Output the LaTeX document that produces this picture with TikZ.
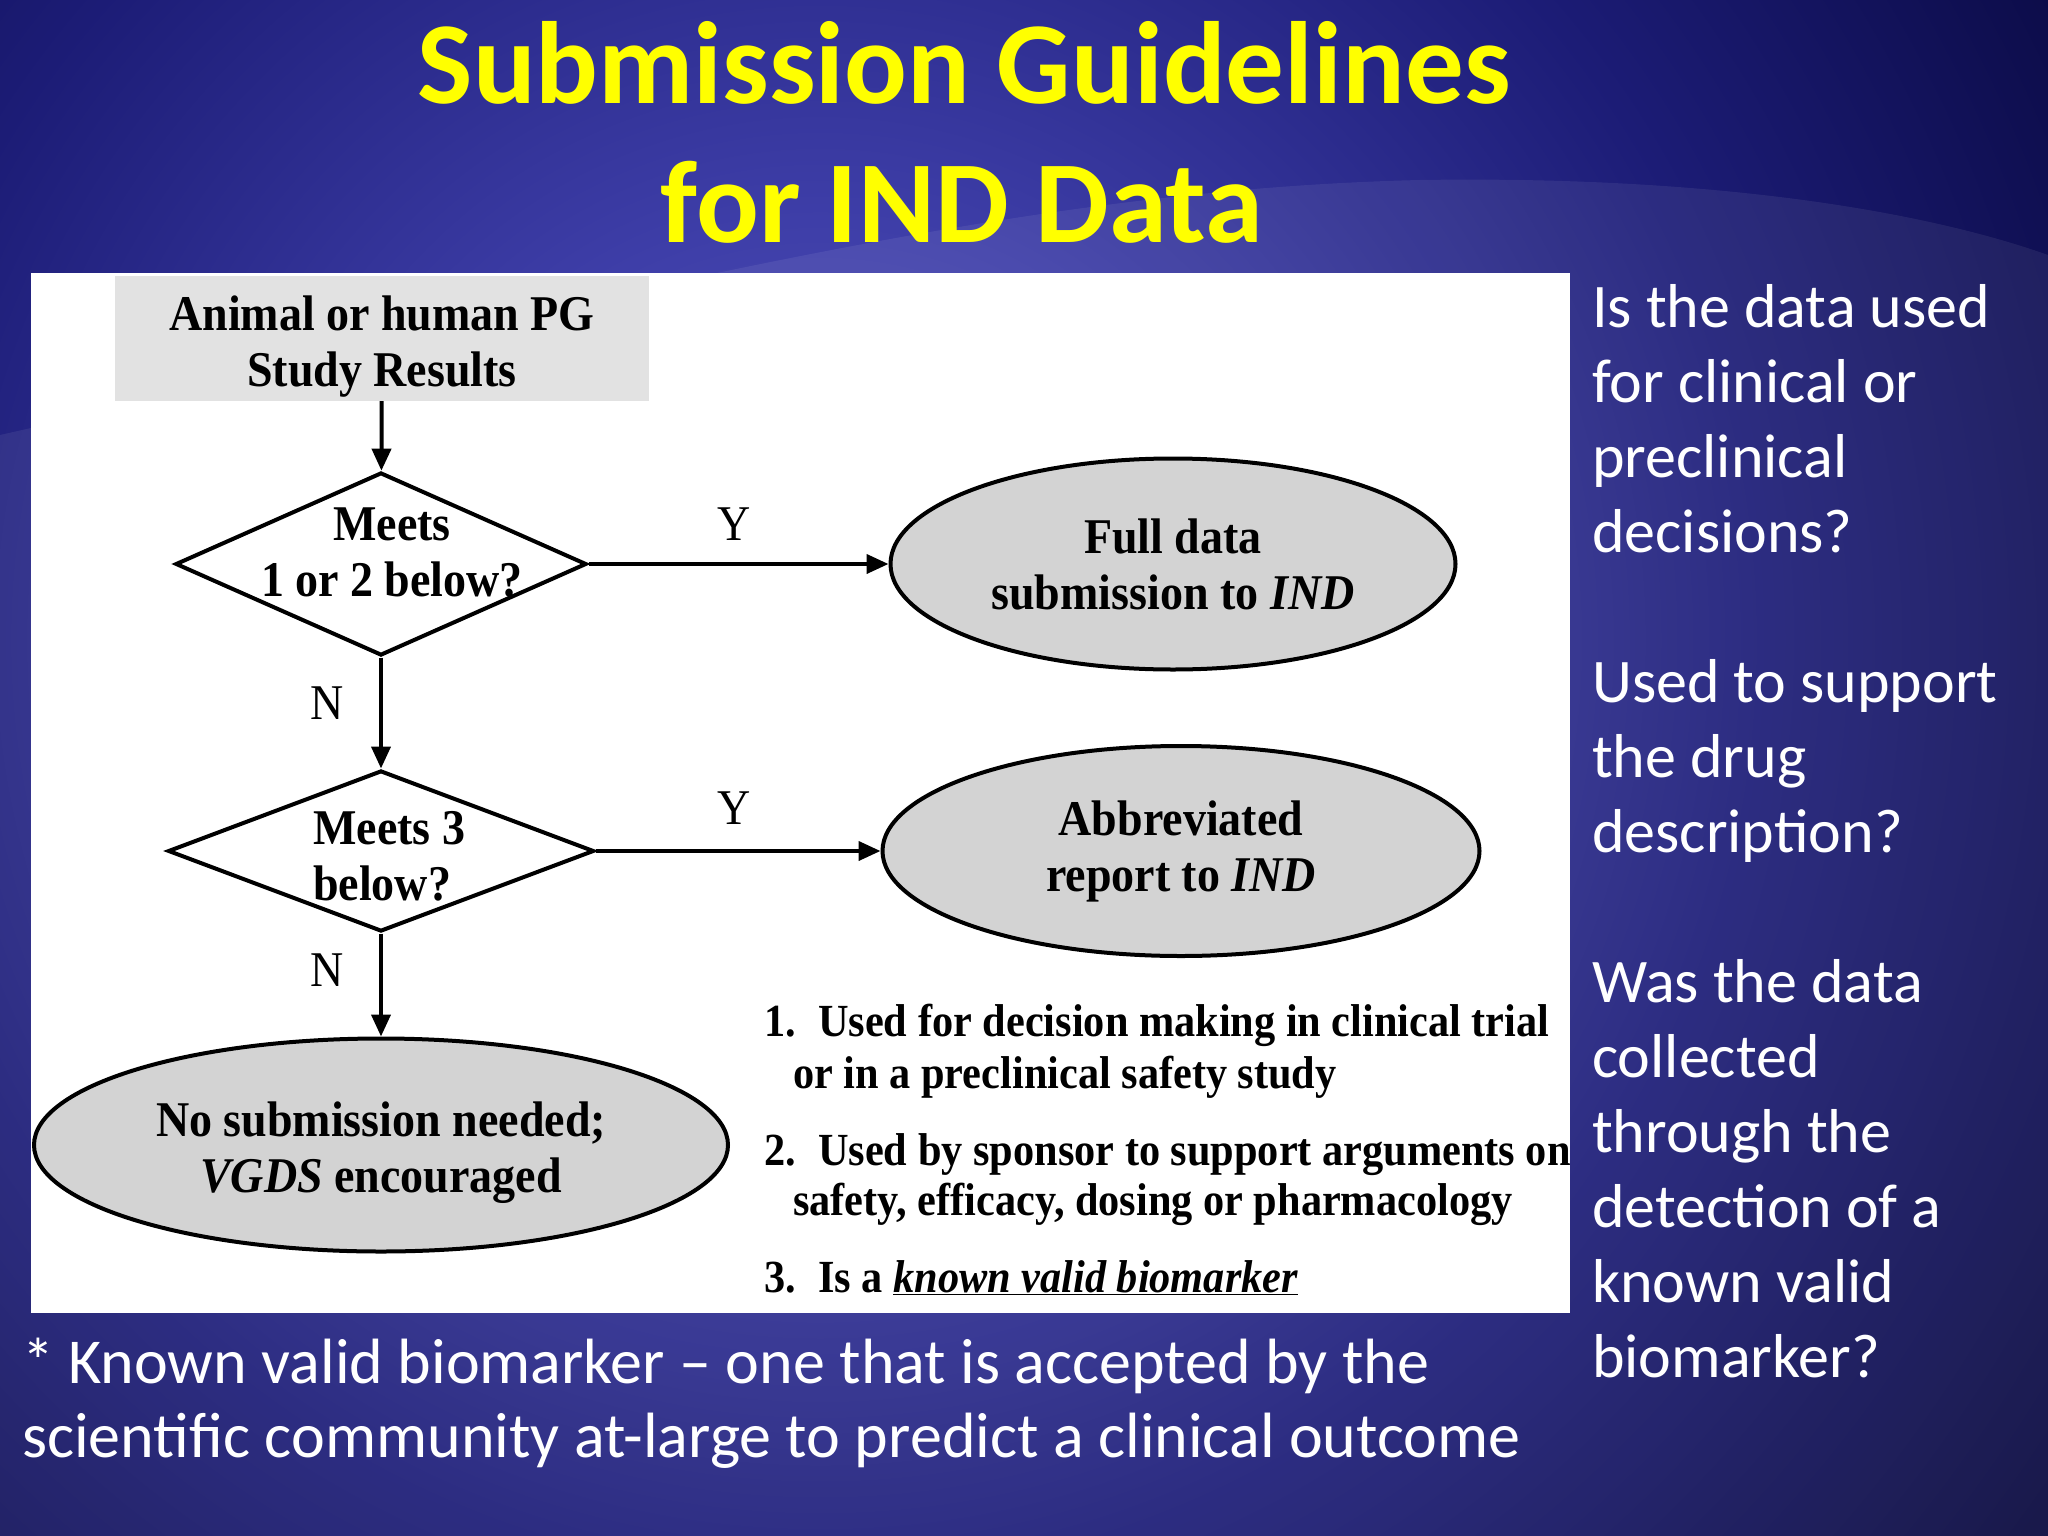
\documentclass[tikz,border=0pt]{standalone}
\usepackage{fontspec}
\setmainfont{Carlito}
\newfontfamily\figfont[FakeStretch=0.92]{Liberation Serif}
\usetikzlibrary{shapes.geometric,arrows.meta}
\definecolor{bgA}{RGB}{90,90,190}
\definecolor{bgB}{RGB}{62,62,168}
\definecolor{bgC}{RGB}{28,28,118}
\definecolor{bgD}{RGB}{8,8,62}
\definecolor{titleyellow}{RGB}{255,255,0}
\definecolor{boxgray}{RGB}{226,226,226}
\definecolor{ellgray}{RGB}{211,211,211}
\pgfdeclareradialshading{bgshade}{\pgfpoint{0bp}{0bp}}{color(0bp)=(bgA); color(7bp)=(bgB); color(16bp)=(bgC); color(25bp)=(bgD); color(50bp)=(bgD)}
\begin{document}
\begin{tikzpicture}[x=1pt,y=-1pt,
  fig/.style={font=\figfont\bfseries\fontsize{50}{56}\selectfont},
  lbl/.style={font=\figfont\fontsize{50}{56}\selectfont, inner sep=0},
  listtxt/.style={font=\figfont\bfseries\fontsize{46}{52}\selectfont, anchor=base west, inner sep=0},
  gbox/.style={fill=boxgray, inner sep=0, fig, align=center},
  ellnode/.style={ellipse, draw=black, line width=4, fill=ellgray, inner sep=0, fig, align=center},
  dia/.style={diamond, draw=black, line width=4, fill=white, inner sep=0},
  arr/.style={-{Triangle[length=22pt,width=19pt]}, line width=4},
  rtext/.style={font=\fontsize{62}{75}\selectfont, text=white, anchor=base west, inner sep=0},
  foot/.style={font=\fontsize{64}{75}\selectfont, text=white, anchor=base west, inner sep=0},
  titletxt/.style={font=\bfseries\fontsize{117}{138}\selectfont, text=titleyellow, anchor=base, inner sep=0},
  panelbox/.style={fill=white, inner sep=0, anchor=north west}
]
\useasboundingbox (0,0) rectangle (2048,1536);
% background
\begin{scope}
  \clip (0,0) rectangle (2048,1536);
  \fill[bgD] (0,0) rectangle (2048,1536);
  \shade[shading=bgshade] (820,640) circle[radius=1500];
  \fill[white, opacity=0.07] (0,435) .. controls (600,300) and (1000,190) .. (1420,180) .. controls (1750,175) and (1950,220) .. (2048,255) -- (2048,1536) -- (0,1536) -- cycle;
\end{scope}
% title
\node[titletxt] (t1) at (964,104) {Submission Guidelines};
\node[titletxt] (t2) at (962,242) {for IND Data};
% panel
\node[panelbox, minimum width=1539, minimum height=1040] (panel) at (31,273) {};
\begin{scope}
  \clip (panel.north west) rectangle (panel.south east);
  \node[gbox, minimum width=534, minimum height=125] (start) at (382,338.5) {\rule{0pt}{50pt}Animal or human PG\\Study Results};
  \node[dia, minimum width=411, minimum height=183] (d1) at (381,564) {};
  \node[fig, align=center, inner sep=0] (d1t) at (392,552) {Meets\\1 or 2 below?};
  \node[dia, minimum width=426, minimum height=161] (d2) at (381,851) {};
  \node[fig, align=left, anchor=west, inner sep=0] (d2t) at (313,856) {Meets 3\\below?};
  \node[ellnode, minimum width=565, minimum height=211] (e1) at (1173,564) {Full data\\submission to \textit{IND}};
  \node[ellnode, minimum width=597, minimum height=210] (e2) at (1181,851) {Abbreviated\\report to \textit{IND}};
  \node[ellnode, minimum width=694, minimum height=213] (e3) at (381,1145) {\rule{0pt}{50pt}No submission needed;\\\textit{VGDS} encouraged};
  \draw[arr] (start) -- (d1);
  \draw[arr] (d1) -- (e1);
  \draw[arr] (d1) -- (d2);
  \draw[arr] (d2) -- (e2);
  \draw[arr] (d2) -- (e3);
  \node[lbl] (y1) at (734,524) {Y};
  \node[lbl] (y2) at (734,808) {Y};
  \node[lbl] (n1) at (327,703) {N};
  \node[lbl] (n2) at (327,970) {N};
  \node[listtxt] (l1a) at (764,1036) {\makebox[54pt][l]{1.}Used for decision making in clinical trial};
  \node[listtxt] (l1b) at (793,1088) {or in a preclinical safety study};
  \node[listtxt] (l2a) at (764,1165) {\makebox[54pt][l]{2.}Used by sponsor to support arguments on};
  \node[listtxt] (l2b) at (793,1215) {safety, efficacy, dosing or pharmacology};
  \node[listtxt] (l3) at (764,1292) {\makebox[54pt][l]{3.}Is a \underline{\textit{known valid biomarker}}};
\end{scope}
% right questions
\foreach \t/\yy [count=\i] in {{Is the data used}/327, {for clinical or}/402, {preclinical}/477, {decisions?}/552,
  {Used to support}/702, {the drug}/777, {description?}/852,
  {Was the data}/1002, {collected}/1077, {through the}/1152, {detection of a}/1227, {known valid}/1302, {biomarker?}/1377}
  \node[rtext] (q\i) at (1592,\yy) {\t};
% footnote
\node[foot] (f1) at (22,1383) {* Known valid biomarker -- one that is accepted by the};
\node[foot] (f2) at (22,1457) {scientific community at-large to predict a clinical outcome};
\end{tikzpicture}
\end{document}
